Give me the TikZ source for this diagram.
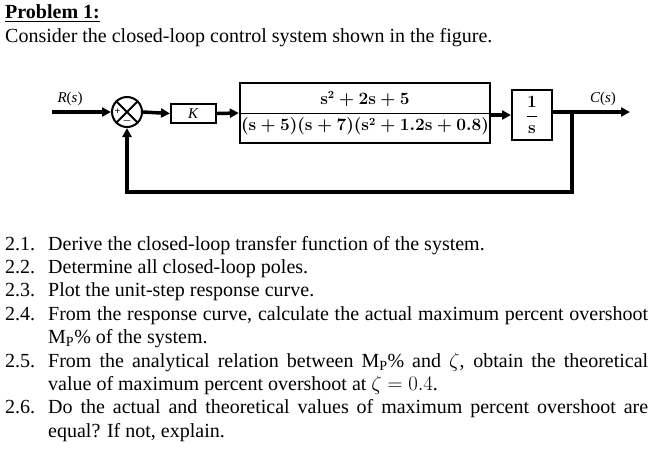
\documentclass[tikz,border=0pt]{standalone}
\usepackage{fontspec}
\setmainfont{Liberation Serif}
\usepackage{amsmath}
\usetikzlibrary{arrows.meta}
\newcommand\myGfrac{{\fontsize{16}{18}\selectfont\boldmath$\dfrac{\mathbf{s^2+2s+5}}{\mathbf{(s+5)(s+7)(s^2+1.2s+0.8)}}$}}
\newcommand\myIfrac{{\fontsize{16}{18}\selectfont\boldmath$\dfrac{\mathbf{1}}{\mathbf{s}}$}}
\begin{document}
\begin{tikzpicture}[x=1pt,y=-1pt,
  blk/.style={draw,line width=2pt,inner sep=0pt},
  sig/.style={line width=3.5pt,-{Triangle[length=9pt,width=9pt]}},
  txt/.style={anchor=base west,inner sep=0pt,font=\fontsize{20}{24}\selectfont}]
\useasboundingbox (0,0) rectangle (653,451);
\node[txt] (title) at (5,18) {\textbf{\underline{Problem 1:}}};
\node[txt] (intro) at (5,42) {Consider the closed-loop control system shown in the figure.};
% diagram
\coordinate (rin) at (52,112);
\node[draw,circle,line width=2pt,minimum size=30pt,inner sep=0pt] (sum) at (127,112) {};
\draw[line width=2pt] (sum.45)--(sum.225) (sum.135)--(sum.315);
\node[font=\fontsize{10}{10}\selectfont\bfseries,inner sep=0pt] (plus) at (117.5,112) {+};
\node[font=\fontsize{10}{10}\selectfont\bfseries,inner sep=0pt] (minus) at (127,120.5) {$\boldsymbol{-}$};
\node[blk,minimum width=45pt,minimum height=19pt] (K) at (193.5,113.5) {\fontsize{15}{17}\selectfont\textit{K}};
\node[blk,minimum width=246pt,minimum height=60pt] (G) at (365,113) {\myGfrac};
\node[blk,minimum width=40pt,minimum height=50pt] (I) at (532,115) {\myIfrac};
\coordinate (br) at (572,112);
\coordinate (out) at (630,112);
\coordinate (bl) at (572,192);
\coordinate (bb) at (127,192);
\node[font=\fontsize{15}{17}\selectfont] (R) at (70,99) {\textit{R}(\textit{s})};
\node[font=\fontsize{15}{17}\selectfont] (C) at (603,99) {\textit{C}(\textit{s})};
\draw[sig] (rin)--(sum.west);
\draw[sig] (sum.east)--(K.west);
\draw[sig] (K.east)--(G.west);
\draw[sig] (G.east|-I.west)--(I.west);
\draw[sig] (I.east|-br)--(out);
\draw[sig] (br)--(bl)--(bb)--(sum.south);
% questions
\foreach \n/\y in {1/250,2/273.4,3/296.8,4/320.2,5/367,6/413.8}
  \node[txt] (q\n) at (5,\y) {2.\n.};
\node[txt] (t1) at (48,250) {Derive the closed-loop transfer function of the system.};
\node[txt] (t2) at (48,273.4) {Determine all closed-loop poles.};
\node[txt] (t3) at (48,296.8) {Plot the unit-step response curve.};
\node[txt] (t4) at (48,320.2) {\makebox[600pt][s]{From the response curve, calculate the actual maximum percent overshoot}};
\node[txt] (t4b) at (48,343.6) {M\textsubscript{P}\% of the system.};
\node[txt] (t5) at (48,367) {\makebox[600pt][s]{From the analytical relation between M\textsubscript{P}\% and $\zeta$, obtain the theoretical}};
\node[txt] (t5b) at (48,390.4) {value of maximum percent overshoot at $\zeta = 0.4$.};
\node[txt] (t6) at (48,413.8) {\makebox[600pt][s]{Do the actual and theoretical values of maximum percent overshoot are}};
\node[txt] (t6b) at (48,437.2) {equal? If not, explain.};
\end{tikzpicture}
\end{document}
